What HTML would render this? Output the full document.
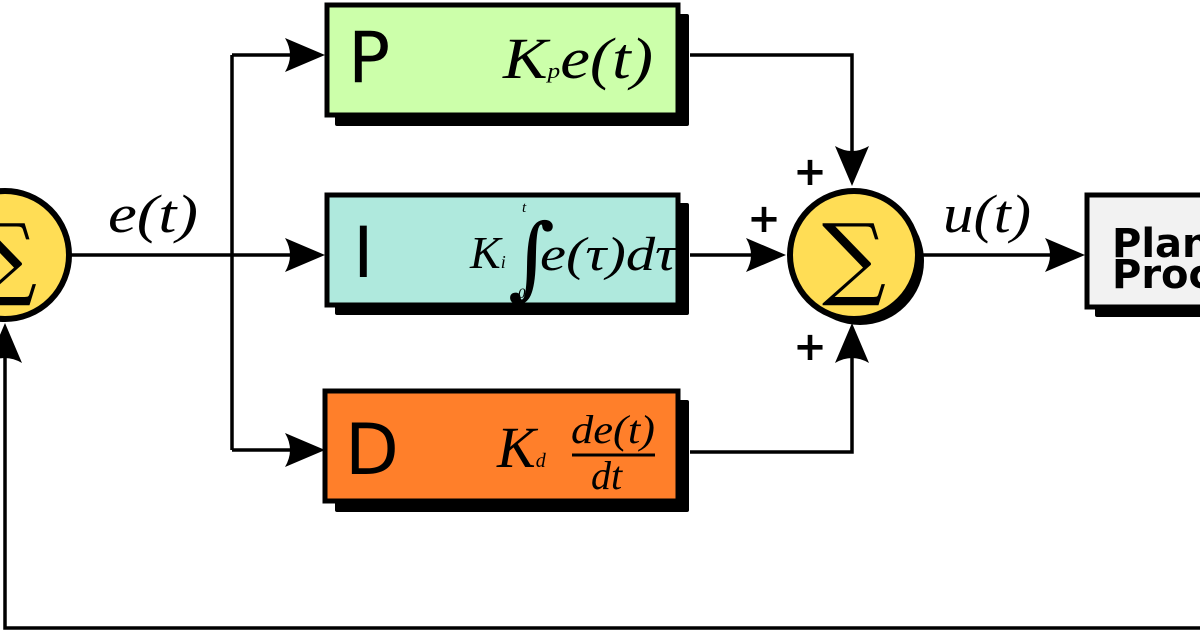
<!DOCTYPE html>
<html><head><meta charset="utf-8"><style>
html,body{margin:0;padding:0;background:#fff;}
svg{display:block}
.m{font-family:"Liberation Serif","DejaVu Serif",serif;font-style:italic;fill:#000}
.s{font-family:"DejaVu Sans","Liberation Sans",sans-serif;fill:#000}
</style></head><body>
<svg width="1200" height="630" viewBox="0 0 1200 630" xmlns="http://www.w3.org/2000/svg">
<defs>
<path id="ah" d="M0,0 L-40,-17 Q-30,0 -40,17 Z" fill="#000"/>
</defs>
<g stroke="#000" stroke-width="3.5" fill="none">
<path d="M70,255 H300"/>
<path d="M232,55 V450"/>
<path d="M232,55 H300"/>
<path d="M232,450 H300"/>
<path d="M690,55 H852 V160"/>
<path d="M690,452 H852 V350"/>
<path d="M690,255 H760"/>
<path d="M922,255 H1055"/>
<path d="M5,350 V628 H1200"/>
</g>
<use href="#ah" transform="translate(325,55)"/>
<use href="#ah" transform="translate(325,255)"/>
<use href="#ah" transform="translate(325,450)"/>
<use href="#ah" transform="translate(786,255)"/>
<use href="#ah" transform="translate(852,186) rotate(90)"/>
<use href="#ah" transform="translate(852,323) rotate(-90)"/>
<use href="#ah" transform="translate(1085,255)"/>
<use href="#ah" transform="translate(5,323) rotate(-90)"/>
<rect x="335" y="14" width="354" height="112" fill="#000" rx="2"/>
<rect x="335" y="203" width="354" height="112" fill="#000" rx="2"/>
<rect x="335" y="400" width="354" height="112" fill="#000" rx="2"/>
<rect x="1095" y="205" width="120" height="112" fill="#000" rx="2"/>
<g stroke="#000" stroke-width="5">
<rect x="327" y="5" width="351" height="110" fill="#ccffaa"/>
<rect x="327" y="195" width="351" height="110" fill="#afe9dd"/>
<rect x="325" y="391" width="353" height="110" fill="#ff7f2a"/>
<rect x="1087" y="195" width="130" height="112" fill="#f2f2f2"/>
</g>
<circle cx="860" cy="261" r="64" fill="#000"/>
<circle cx="854" cy="255" r="64" fill="#ffdd55" stroke="#000" stroke-width="6"/>
<circle cx="5" cy="255" r="64" fill="#ffdd55" stroke="#000" stroke-width="6"/>
<text x="854" y="288" text-anchor="middle" font-family="DejaVu Serif,serif" font-size="90" font-weight="200">∑</text>
<text x="5" y="288" text-anchor="middle" font-family="DejaVu Serif,serif" font-size="90">∑</text>
<text class="s" x="348" y="82" font-size="70">P</text>
<text class="s" x="353" y="277" font-size="70">I</text>
<text class="s" x="345" y="474" font-size="70">D</text>
<text class="m" x="503" y="78" font-size="58" textLength="150" lengthAdjust="spacingAndGlyphs">K<tspan font-size="22">p</tspan>e(t)</text>
<text class="m" x="470" y="268" font-size="46">K<tspan font-size="18">i</tspan></text>
<text x="508" y="288" font-family="DejaVu Serif,serif" font-size="90" font-style="italic" font-weight="200">∫</text>
<text class="m" x="522" y="212" font-size="15">t</text>
<text class="m" x="518" y="298" font-size="15">0</text>
<text class="m" x="540" y="270" font-size="48" textLength="136" lengthAdjust="spacingAndGlyphs">e(τ)dτ</text>
<text class="m" x="497" y="467" font-size="58">K<tspan font-size="20">d</tspan></text>
<text class="m" x="571" y="443" font-size="40" textLength="84" lengthAdjust="spacingAndGlyphs">de(t)</text>
<line x1="572" y1="455" x2="655" y2="455" stroke="#000" stroke-width="3"/>
<text class="m" x="591" y="489" font-size="40">dt</text>
<text class="m" x="108" y="232" font-size="54" textLength="90" lengthAdjust="spacingAndGlyphs">e(t)</text>
<text class="m" x="943" y="232" font-size="54" textLength="88" lengthAdjust="spacingAndGlyphs">u(t)</text>
<text class="s" x="810" y="185" font-size="40" font-weight="bold" text-anchor="middle">+</text>
<text class="s" x="764" y="232" font-size="40" font-weight="bold" text-anchor="middle">+</text>
<text class="s" x="810" y="360" font-size="40" font-weight="bold" text-anchor="middle">+</text>
<text class="s" x="1112" y="257" font-size="40" font-weight="bold">Plant</text>
<text class="s" x="1112" y="288" font-size="40" font-weight="bold">Process</text>
</svg>
</body></html>
